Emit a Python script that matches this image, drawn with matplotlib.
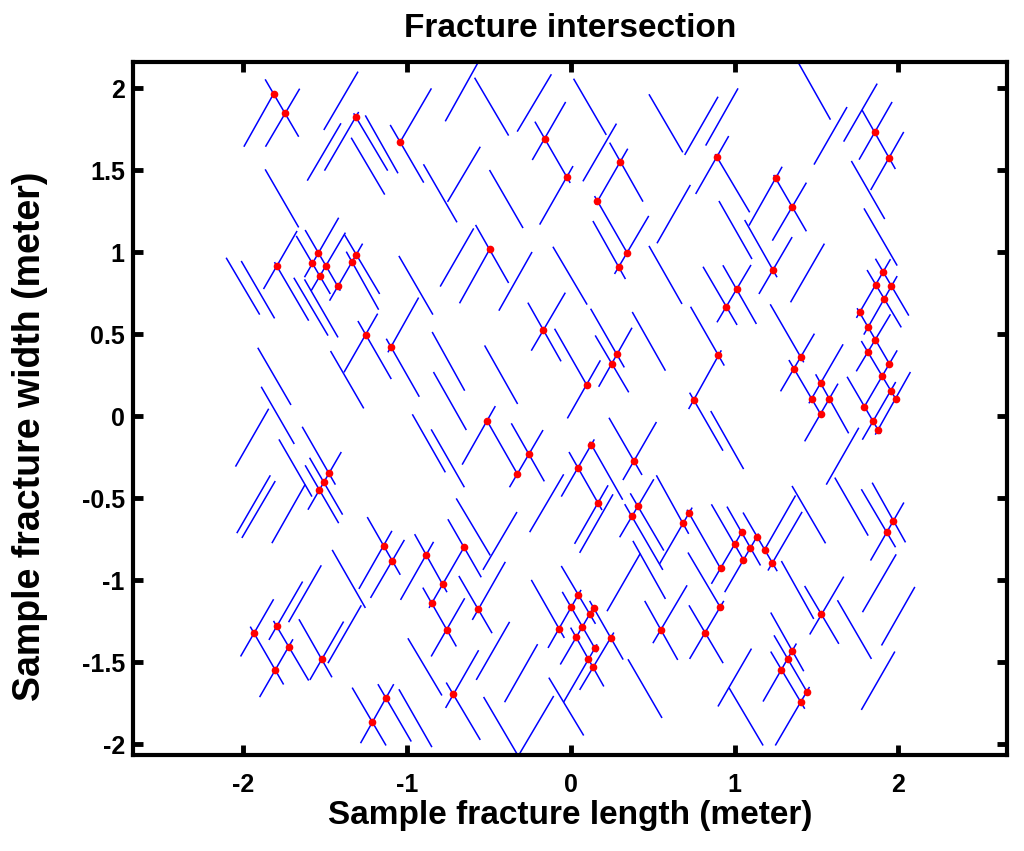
import numpy as np
import matplotlib
matplotlib.use('Agg')
import matplotlib.pyplot as plt

plt.rcParams['font.family'] = ['Liberation Sans', 'DejaVu Sans']
plt.rcParams['font.weight'] = 'bold'
plt.rcParams['axes.unicode_minus'] = False

# fracture set 1 (dipping one way): x1, y1, x2, y2 in meters
set1 = [
    (-1.992, 1.648, -1.811, 1.970), (-1.860, 1.648, -1.656, 1.994), (-1.504, 1.750, -1.300, 2.098),
    (-1.605, 1.441, -1.404, 1.783), (-1.500, 1.502, -1.296, 1.852), (-1.048, 1.660, -0.852, 1.996),
    (-1.872, 0.780, -1.672, 1.126), (-1.622, 0.852, -1.418, 1.207), (-1.581, 0.770, -1.377, 1.116),
    (-1.469, 0.709, -1.272, 1.049), (-1.381, 0.272, -1.180, 0.622), (-1.113, 0.394, -0.930, 0.720),
    (-2.043, -0.303, -1.845, 0.042), (-1.601, -0.566, -1.402, -0.222), (-1.821, -0.770, -1.622, -0.419),
    (-2.035, -0.709, -1.835, -0.364), (-2.004, -0.738, -1.805, -0.399), (-2.012, -1.461, -1.815, -1.120),
    (-1.896, -1.709, -1.697, -1.364), (-1.839, -1.360, -1.638, -1.012), (-1.719, -1.252, -1.524, -0.913),
    (-1.589, -1.604, -1.388, -1.256), (-1.479, -1.502, -1.280, -1.157), (-1.280, -1.990, -1.082, -1.638),
    (-1.290, -1.049, -1.093, -0.703), (-1.219, -1.104, -1.017, -0.758), (-1.036, -1.116, -0.839, -0.770),
    (-0.763, 1.803, -0.570, 2.149), (-0.324, 1.740, -0.120, 2.082), (-0.232, 1.567, -0.033, 1.913),
    (-0.187, 1.173, 0.012, 1.522), (0.077, 1.437, 0.277, 1.781), (0.154, 1.295, 0.346, 1.628),
    (0.270, 0.872, 0.474, 1.218), (0.698, 1.598, 0.897, 1.945), (0.765, 1.360, 0.962, 1.705),
    (0.826, 1.655, 1.019, 1.996), (0.529, 1.059, 0.728, 1.407), (0.895, 0.577, 1.098, 0.919),
    (-0.794, 0.795, -0.594, 1.142), (-0.676, 0.693, -0.489, 1.028), (-0.436, 0.648, -0.238, 0.998),
    (-0.749, 1.312, -0.554, 1.640), (1.487, 1.539, 1.684, 1.882), (1.668, 1.679, 1.868, 2.025),
    (1.762, 1.569, 1.959, 1.913), (1.833, 1.384, 2.030, 1.730), (1.090, 1.167, 1.288, 1.518),
    (1.233, 1.075, 1.436, 1.421), (1.151, 0.750, 1.349, 1.089), (1.344, 0.699, 1.546, 1.049),
    (1.746, 0.604, 1.949, 0.954), (1.791, 0.502, 1.990, 0.851), (1.745, 0.278, 1.949, 0.618),
    (1.786, 0.048, 1.990, 0.398), (1.782, -0.139, 1.981, 0.205), (1.861, -0.108, 2.071, 0.266),
    (1.283, 0.156, 1.485, 0.500), (1.430, -0.149, 1.629, 0.195), (1.456, 0.083, 1.660, 0.435),
    (1.562, -0.413, 1.756, -0.074), (1.832, -0.876, 2.031, -0.530), (-0.238, 0.404, -0.035, 0.750),
    (-0.018, -0.009, 0.179, 0.337), (0.173, 0.184, 0.372, 0.536), (0.722, 0.048, 0.917, 0.398),
    (-0.660, -0.291, -0.462, 0.058), (-0.371, -0.429, -0.171, -0.088), (-0.533, -0.933, -0.330, -0.588),
    (-0.248, -0.703, -0.045, -0.358), (-0.055, -0.486, 0.142, -0.145), (0.026, -0.774, 0.226, -0.425),
    (0.057, -0.829, 0.256, -0.480), (0.321, -0.385, 0.521, -0.039), (0.301, -0.734, 0.505, -0.388),
    (0.545, -0.896, 0.739, -0.561), (0.861, -1.018, 1.050, -0.697), (0.942, -1.069, 1.145, -0.720),
    (1.180, -0.819, 1.370, -0.487), (1.206, -0.937, 1.410, -0.587), (1.783, -1.191, 1.984, -0.846),
    (1.899, -1.394, 2.098, -1.045), (1.776, -1.787, 1.976, -1.439), (1.461, -1.327, 1.664, -0.982),
    (1.176, -1.736, 1.375, -1.390), (1.251, -2.004, 1.455, -1.655), (0.901, -1.766, 1.101, -1.421),
    (0.728, -1.476, 0.932, -1.130), (-0.862, -1.165, -0.645, -0.789), (-0.849, -1.461, -0.649, -1.114),
    (-0.598, -1.238, -0.401, -0.892), (-0.574, -1.604, -0.375, -1.258), (-0.761, -1.775, -0.564, -1.431),
    (-0.310, -2.055, -0.106, -1.710), (-0.401, -1.740, -0.204, -1.394), (-0.136, -1.409, 0.061, -1.063),
    (-0.061, -1.510, 0.143, -1.161), (0.057, -1.665, 0.261, -1.323), (-0.041, -1.740, 0.159, -1.395),
    (0.224, -1.185, 0.423, -0.840), (0.504, -1.380, 0.708, -1.035),
]

# fracture set 2 (dipping the other way)
set2 = [
    (-1.862, 2.051, -1.662, 1.709), (-1.322, 1.844, -1.119, 1.502), (-1.251, 1.831, -1.056, 1.486),
    (-1.337, 1.695, -1.137, 1.356), (-1.099, 1.773, -0.899, 1.429), (-0.896, 1.533, -0.696, 1.187),
    (-1.862, 1.502, -1.662, 1.156), (-1.805, 0.936, -1.601, 0.587), (-2.100, 0.963, -1.900, 0.624),
    (-2.008, 0.943, -1.809, 0.601), (-1.687, 0.841, -1.483, 0.496), (-1.622, 0.831, -1.422, 0.485),
    (-1.672, 1.096, -1.469, 0.750), (-1.618, 1.132, -1.408, 0.770), (-1.377, 1.102, -1.168, 0.750),
    (-1.367, 1.000, -1.174, 0.654), (-1.046, 0.974, -0.843, 0.624), (-1.296, 0.577, -1.097, 0.231),
    (-1.123, 0.469, -0.926, 0.123), (-1.463, 0.394, -1.265, 0.052), (-1.907, 0.414, -1.709, 0.073),
    (-1.886, 0.176, -1.689, -0.165), (-1.778, -0.145, -1.581, -0.486), (-1.636, -0.068, -1.438, -0.413),
    (-1.591, -0.257, -1.394, -0.596), (-1.618, -0.303, -1.418, -0.648), (-1.239, -0.619, -1.042, -0.963),
    (-0.964, 0.008, -0.767, -0.338), (-1.953, -1.287, -1.754, -1.632), (-1.811, -1.252, -1.601, -1.608),
    (-1.656, -1.242, -1.459, -1.588), (-1.453, -0.819, -1.255, -1.165), (-1.331, -1.659, -1.129, -2.004),
    (-1.174, -1.638, -0.975, -1.980), (-1.046, -1.669, -0.849, -2.014), (-0.991, -1.358, -0.788, -1.699),
    (-0.950, -0.723, -0.757, -1.069), (-0.584, 2.061, -0.381, 1.716), (-0.216, 1.793, -0.005, 1.427),
    (0.020, 2.055, 0.215, 1.720), (0.240, 1.665, 0.439, 1.313), (0.148, 1.339, 0.352, 0.984),
    (0.138, 1.187, 0.332, 0.841), (0.480, 1.960, 0.682, 1.614), (0.480, 1.035, 0.677, 0.689),
    (0.810, 0.908, 1.013, 0.561), (0.931, 0.917, 1.131, 0.567), (-0.578, 1.163, -0.381, 0.817),
    (-0.106, 1.030, 0.098, 0.685), (-0.493, 1.498, -0.293, 1.152), (1.389, 2.157, 1.583, 1.813),
    (1.780, 1.864, 1.979, 1.512), (1.715, 1.553, 1.914, 1.207), (1.792, 1.264, 1.990, 0.923),
    (0.884, 1.595, 1.090, 1.248), (0.907, 1.309, 1.104, 0.963), (1.241, 1.468, 1.436, 1.132),
    (1.064, 1.193, 1.257, 0.852), (1.862, 0.957, 2.061, 0.618), (1.811, 0.888, 2.015, 0.546),
    (1.750, 0.655, 1.949, 0.313), (1.776, 0.455, 1.990, 0.095), (1.689, 0.237, 1.888, -0.104),
    (1.220, 0.679, 1.420, 0.333), (1.334, 0.339, 1.532, 0.002), (1.497, 0.252, 1.694, -0.100),
    (1.614, -0.378, 1.813, -0.724), (1.776, -0.449, 1.980, -0.795), (1.842, -0.409, 2.041, -0.765),
    (1.353, -0.429, 1.553, -0.771), (-0.259, 0.689, -0.061, 0.339), (-0.096, 0.530, 0.102, 0.184),
    (0.124, 0.652, 0.325, 0.302), (0.152, 0.489, 0.352, 0.150), (0.378, 0.632, 0.576, 0.282),
    (0.734, 0.664, 0.935, 0.313), (0.728, 0.140, 0.927, -0.206), (0.857, 0.028, 1.053, -0.318),
    (-0.843, 0.510, -0.649, 0.160), (-0.835, 0.266, -0.639, -0.080), (-0.523, 0.428, -0.326, 0.079),
    (-0.513, -0.023, -0.316, -0.368), (-0.360, -0.047, -0.163, -0.393), (-0.849, -0.084, -0.651, -0.429),
    (-0.696, -0.505, -0.493, -0.845), (-0.747, -0.632, -0.548, -0.978), (-0.008, -0.222, 0.189, -0.568),
    (0.118, -0.159, 0.315, -0.505), (0.236, -0.013, 0.433, -0.354), (0.366, -0.474, 0.566, -0.815),
    (0.332, -0.540, 0.560, -0.933), (0.525, -0.364, 0.718, -0.713), (0.712, -0.574, 0.922, -0.941),
    (0.382, -0.764, 0.576, -1.110), (0.718, -0.835, 0.922, -1.180), (0.861, -0.541, 1.064, -0.892),
    (0.956, -0.555, 1.156, -0.906), (1.054, -0.591, 1.258, -0.941), (1.288, -0.887, 1.481, -1.232),
    (1.630, -1.126, 1.833, -1.476), (1.430, -1.039, 1.634, -1.384), (1.223, -1.439, 1.426, -1.780),
    (1.223, -1.201, 1.420, -1.551), (1.243, -1.340, 1.441, -1.679), (0.968, -1.659, 1.172, -2.004),
    (0.724, -1.157, 0.928, -1.502), (-0.900, -1.049, -0.700, -1.400), (-0.680, -0.978, -0.482, -1.319),
    (-0.757, -1.628, -0.554, -1.970), (-0.529, -1.716, -0.330, -2.055), (-0.238, -1.002, -0.041, -1.348),
    (-0.055, -0.917, 0.149, -1.262), (-0.049, -1.075, 0.159, -1.435), (0.118, -1.130, 0.318, -1.480),
    (0.002, -1.293, 0.200, -1.644), (-0.131, -1.598, 0.077, -1.943), (0.352, -1.486, 0.555, -1.836),
    (0.454, -1.130, 0.651, -1.482),
]

x_ticks = [-2, -1, 0, 1, 2]
y_ticks = [-2, -1.5, -1, -0.5, 0, 0.5, 1, 1.5, 2]


# 두 선분의 교차점 찾기
def intersections(a_list, b_list):
    pts = []
    for ax1, ay1, ax2, ay2 in a_list:
        for bx1, by1, bx2, by2 in b_list:
            d = (ax2 - ax1) * (by2 - by1) - (ay2 - ay1) * (bx2 - bx1)
            if abs(d) < 1e-12:
                continue
            t = ((bx1 - ax1) * (by2 - by1) - (by1 - ay1) * (bx2 - bx1)) / d
            u = ((bx1 - ax1) * (ay2 - ay1) - (by1 - ay1) * (ax2 - ax1)) / d
            if 0 <= t <= 1 and 0 <= u <= 1:
                pts.append((ax1 + t * (ax2 - ax1), ay1 + t * (ay2 - ay1)))
    return np.array(pts)


fig = plt.figure(figsize=(10.24, 8.51), dpi=100)
ax = fig.add_axes([0.130, 0.113, 0.853, 0.814])

for x1, y1, x2, y2 in set1 + set2:
    ax.plot([x1, x2], [y1, y2], color='#0000ff', lw=1.1)

pts = intersections(set1, set2)
ax.plot(pts[:, 0], pts[:, 1], 'o', color='red', ms=5.5, mec='none')

ax.set_xlim(-2.67, 2.66)
ax.set_ylim(-2.065, 2.16)
ax.set_xticks(x_ticks)
ax.set_yticks(y_ticks)
ax.set_yticklabels(['-2', '-1.5', '-1', '-0.5', '0', '0.5', '1', '1.5', '2'])
ax.tick_params(direction='in', length=7, width=3.5, labelsize=18, top=True, right=True)
ax.tick_params(axis='x', pad=13)
ax.tick_params(axis='y', pad=6)
for s in ax.spines.values():
    s.set_linewidth(3)

ax.set_title('Fracture intersection', fontsize=24, fontweight='bold', pad=18)
ax.set_xlabel('Sample fracture length (meter)', fontsize=24, fontweight='bold', labelpad=2)
ax.set_ylabel('Sample fracture width (meter)', fontsize=27, fontweight='bold')
ax.yaxis.set_label_coords(-0.098, 0.46)

fig.savefig('out.png', dpi=100)
